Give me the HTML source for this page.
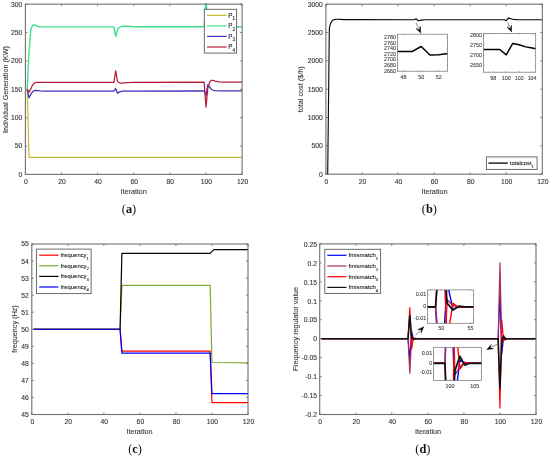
<!DOCTYPE html>
<html><head><meta charset="utf-8"><title>Figure</title>
<style>html,body{margin:0;padding:0;background:#fff}svg{display:block}</style>
</head><body>
<svg width="550" height="459" viewBox="0 0 550 459" font-family='"Liberation Sans", sans-serif'>
<rect width="550" height="459" fill="#fff"/>
<path d="M25.4 174.4v-2M25.4 4.15v2M61.52 174.4v-2M61.52 4.15v2M97.63 174.4v-2M97.63 4.15v2M133.75 174.4v-2M133.75 4.15v2M169.87 174.4v-2M169.87 4.15v2M205.98 174.4v-2M205.98 4.15v2M242.1 174.4v-2M242.1 4.15v2M25.4 174.4h2M242.1 174.4h-2M25.4 146.03h2M242.1 146.03h-2M25.4 117.65h2M242.1 117.65h-2M25.4 89.28h2M242.1 89.28h-2M25.4 60.9h2M242.1 60.9h-2M25.4 32.53h2M242.1 32.53h-2M25.4 4.15h2M242.1 4.15h-2" stroke="#707070" stroke-width="0.88" fill="none"/>
<g font-size="6.8" fill="#383838" stroke="#383838" stroke-width="0.12" text-anchor="middle">
<text x="25.9" y="184.2">0</text>
<text x="62.02" y="184.2">20</text>
<text x="98.13" y="184.2">40</text>
<text x="134.25" y="184.2">60</text>
<text x="170.37" y="184.2">80</text>
<text x="206.48" y="184.2">100</text>
<text x="242.6" y="184.2">120</text>
</g>
<g font-size="6.8" fill="#383838" stroke="#383838" stroke-width="0.12" text-anchor="end">
<text x="22.3" y="176.85">0</text>
<text x="22.3" y="148.47">50</text>
<text x="22.3" y="120.1">100</text>
<text x="22.3" y="91.72">150</text>
<text x="22.3" y="63.35">200</text>
<text x="22.3" y="34.97">250</text>
<text x="22.3" y="6.6">300</text>
</g>
<clipPath id="c1"><rect x="25.4" y="2.95" width="216.7" height="171.45"/></clipPath>
<g clip-path="url(#c1)" fill="none" stroke-linejoin="round">
<polyline points="27.21,89.28 29.01,157.38 242.1,157.38" stroke="#c8be2c" stroke-width="1.25"/>
<polyline points="27.21,89.28 29.01,52.39 30.82,29.69 32.62,25.15 34.43,24.86 36.23,25.72 38.04,26.4 39.85,26.74 43.46,26.85 113.89,26.85 115.69,36.5 117.5,29.69 119.3,27.42 121.11,26.57 122.91,26.28 126.53,26.28 133.75,26.68 204.18,26.68 205.98,-1.53 207.79,25.72 209.59,26.68 242.1,26.68" stroke="#3fe08c" stroke-width="1.4"/>
<polyline points="27.21,89.28 29.01,97.79 30.82,94.38 32.62,91.55 34.43,90.58 36.23,90.41 39.85,90.81 47.07,91.09 113.89,91.09 115.69,88.42 117.5,93.25 119.3,92.11 121.11,91.43 122.91,91.09 204.18,90.86 205.98,95.8 207.79,84.51 209.59,87.01 211.4,89.28 213.21,90.24 215.01,90.64 220.43,90.81 242.1,90.81" stroke="#4030bc" stroke-width="1.25"/>
<polyline points="27.21,89.28 29.01,92.11 30.82,88.93 32.62,84.85 34.43,83.03 36.23,82.47 39.85,82.29 47.07,82.47 113.89,82.47 115.69,70.94 117.5,81.33 119.3,82.86 121.11,83.03 126.53,82.69 133.75,82.47 204.18,82.24 205.98,107.09 207.79,88.42 209.59,82.07 211.4,80.37 213.21,80.37 215.01,81.1 218.62,81.9 224.04,82.12 242.1,82.18" stroke="#b41c3c" stroke-width="1.25"/>
</g>
<rect x="25.4" y="4.15" width="216.7" height="170.25" fill="none" stroke="#707070" stroke-width="1.1"/>
<rect x="204.3" y="9.3" width="32.3" height="43.8" fill="#fff" stroke="#5c5c5c" stroke-width="0.9"/>
<path d="M207.1 15.4H226.5" stroke="#c8be2c" stroke-width="1.2"/>
<text x="228.3" y="17.54" font-size="6.3" fill="#222" stroke="#222" stroke-width="0.1">P<tspan font-size="4.54" dy="2.65">1</tspan></text>
<path d="M207.1 25.9H226.5" stroke="#3fe08c" stroke-width="1.2"/>
<text x="228.3" y="28.04" font-size="6.3" fill="#222" stroke="#222" stroke-width="0.1">P<tspan font-size="4.54" dy="2.65">2</tspan></text>
<path d="M207.1 36.4H226.5" stroke="#4030bc" stroke-width="1.2"/>
<text x="228.3" y="38.54" font-size="6.3" fill="#222" stroke="#222" stroke-width="0.1">P<tspan font-size="4.54" dy="2.65">3</tspan></text>
<path d="M207.1 47H226.5" stroke="#b41c3c" stroke-width="1.2"/>
<text x="228.3" y="49.14" font-size="6.3" fill="#222" stroke="#222" stroke-width="0.1">P<tspan font-size="4.54" dy="2.65">4</tspan></text>
<text x="133.6" y="193.7" text-anchor="middle" font-size="7.25" fill="#383838" stroke="#383838" stroke-width="0.1">Iteration</text>
<text transform="translate(7.8 89.5) rotate(-90)" text-anchor="middle" font-size="7.25" fill="#383838" stroke="#383838" stroke-width="0.1">Individual Generation (KW)</text>
<text x="129" y="212.6" text-anchor="middle" font-size="12.3" fill="#111" font-family='"Liberation Serif", serif'>(<tspan font-weight="bold">a</tspan>)</text>
<path d="M325.9 174.2v-2M325.9 4.2v2M361.97 174.2v-2M361.97 4.2v2M398.03 174.2v-2M398.03 4.2v2M434.1 174.2v-2M434.1 4.2v2M470.17 174.2v-2M470.17 4.2v2M506.23 174.2v-2M506.23 4.2v2M542.3 174.2v-2M542.3 4.2v2M325.9 174.2h2M542.3 174.2h-2M325.9 145.87h2M542.3 145.87h-2M325.9 117.53h2M542.3 117.53h-2M325.9 89.2h2M542.3 89.2h-2M325.9 60.87h2M542.3 60.87h-2M325.9 32.53h2M542.3 32.53h-2M325.9 4.2h2M542.3 4.2h-2" stroke="#707070" stroke-width="0.88" fill="none"/>
<g font-size="6.8" fill="#383838" stroke="#383838" stroke-width="0.12" text-anchor="middle">
<text x="326.4" y="184">0</text>
<text x="362.47" y="184">20</text>
<text x="398.53" y="184">40</text>
<text x="434.6" y="184">60</text>
<text x="470.67" y="184">80</text>
<text x="506.73" y="184">100</text>
<text x="542.8" y="184">120</text>
</g>
<g font-size="6.8" fill="#383838" stroke="#383838" stroke-width="0.12" text-anchor="end">
<text x="322.8" y="176.65">0</text>
<text x="322.8" y="148.31">500</text>
<text x="322.8" y="119.98">1000</text>
<text x="322.8" y="91.65">1500</text>
<text x="322.8" y="63.31">2000</text>
<text x="322.8" y="34.98">2500</text>
<text x="322.8" y="6.65">3000</text>
</g>
<clipPath id="c2"><rect x="325.9" y="4.2" width="216.4" height="170"/></clipPath>
<g clip-path="url(#c2)" fill="none" stroke-linejoin="round">
<polyline points="327.7,174.2 329.33,28.85 329.87,25.85 330.77,23.01 331.85,21.2 333.11,20.01 334.92,19.39 336.72,19.22 338.52,19.27 340.33,19.39 343.93,19.56 351.15,19.67 414.26,19.73 416.07,18.71 417.87,20.58 419.67,20.41 421.48,20.12 425.08,19.78 504.43,19.73 506.23,20.8 508.04,18.08 509.84,18.42 511.64,18.99 513.45,19.39 517.05,19.67 542.3,19.73" stroke="#0a0a0a" stroke-width="1.15"/>
</g>
<rect x="325.9" y="4.2" width="216.4" height="170" fill="none" stroke="#707070" stroke-width="1.1"/>
<rect x="397.4" y="34.2" width="50.2" height="37" fill="#fff"/>
<path d="M403.56 71.2v-1M403.56 34.2v1M421.18 71.2v-1M421.18 34.2v1M438.79 71.2v-1M438.79 34.2v1M397.4 71.2h1M447.6 71.2h-1M397.4 65.59h1M447.6 65.59h-1M397.4 59.99h1M447.6 59.99h-1M397.4 54.38h1M447.6 54.38h-1M397.4 48.78h1M447.6 48.78h-1M397.4 43.17h1M447.6 43.17h-1M397.4 37.56h1M447.6 37.56h-1" stroke="#707070" stroke-width="0.56" fill="none"/>
<g font-size="5.4" fill="#383838" stroke="#383838" stroke-width="0.08" text-anchor="middle">
<text x="403.56" y="78.7">48</text>
<text x="421.18" y="78.7">50</text>
<text x="438.79" y="78.7">52</text>
</g>
<g font-size="5.4" fill="#383838" stroke="#383838" stroke-width="0.08" text-anchor="end">
<text x="396.1" y="72.54">2660</text>
<text x="396.1" y="66.94">2680</text>
<text x="396.1" y="61.33">2700</text>
<text x="396.1" y="55.73">2720</text>
<text x="396.1" y="50.12">2740</text>
<text x="396.1" y="44.51">2760</text>
<text x="396.1" y="38.91">2780</text>
</g>
<clipPath id="c3"><rect x="397.4" y="34.2" width="50.2" height="37"/></clipPath>
<g clip-path="url(#c3)" fill="none" stroke-linejoin="round">
<polyline points="394.76,51.44 412.37,51.44 421.18,46.53 429.99,55.08 438.79,54.66 447.6,53.54" stroke="#000" stroke-width="1.5"/>
</g>
<rect x="397.4" y="34.2" width="50.2" height="37" fill="none" stroke="#707070" stroke-width="0.7"/>
<rect x="483.4" y="33.5" width="52.3" height="38.7" fill="#fff"/>
<path d="M493.3 72.2v-1M493.3 33.5v1M506.25 72.2v-1M506.25 33.5v1M519.19 72.2v-1M519.19 33.5v1M532.14 72.2v-1M532.14 33.5v1M483.4 65.42h1M535.7 65.42h-1M483.4 55.44h1M535.7 55.44h-1M483.4 45.47h1M535.7 45.47h-1M483.4 35.49h1M535.7 35.49h-1" stroke="#707070" stroke-width="0.56" fill="none"/>
<g font-size="5.4" fill="#383838" stroke="#383838" stroke-width="0.08" text-anchor="middle">
<text x="493.3" y="79.7">98</text>
<text x="506.25" y="79.7">100</text>
<text x="519.19" y="79.7">102</text>
<text x="532.14" y="79.7">104</text>
</g>
<g font-size="5.4" fill="#383838" stroke="#383838" stroke-width="0.08" text-anchor="end">
<text x="482.1" y="66.76">2650</text>
<text x="482.1" y="56.79">2700</text>
<text x="482.1" y="46.81">2750</text>
<text x="482.1" y="36.84">2800</text>
</g>
<clipPath id="c4"><rect x="483.4" y="33.5" width="52.3" height="38.7"/></clipPath>
<g clip-path="url(#c4)" fill="none" stroke-linejoin="round">
<polyline points="480.36,49.46 499.78,49.46 506.25,54.84 512.72,43.47 519.19,44.67 525.67,46.87 532.14,48.06 536.02,48.76" stroke="#000" stroke-width="1.5"/>
</g>
<rect x="483.4" y="33.5" width="52.3" height="38.7" fill="none" stroke="#707070" stroke-width="0.7"/>
<path d="M416.1 22.9L418.58 28.29" stroke="#111" stroke-width="0.5"/>
<path d="M420.8 33.1L415.98 28.38L419.27 29.78L420.34 26.37Z" fill="#000" stroke="#000" stroke-width="0.45" stroke-linejoin="miter"/>
<path d="M507.8 22.4L509.65 27.07" stroke="#111" stroke-width="0.5"/>
<path d="M511.6 32L507.05 27.03L510.26 28.6L511.51 25.26Z" fill="#000" stroke="#000" stroke-width="0.45" stroke-linejoin="miter"/>
<rect x="486.4" y="156.9" width="50.7" height="12.5" fill="#fff" stroke="#5c5c5c" stroke-width="0.9"/>
<path d="M488.4 163.1H507.8" stroke="#000" stroke-width="1.3"/>
<text x="509.8" y="165.09" font-size="5.85" fill="#222" stroke="#222" stroke-width="0.1">totalcost<tspan font-size="4.21" dy="2.46">1</tspan></text>
<text x="434.5" y="193.7" text-anchor="middle" font-size="7.25" fill="#383838" stroke="#383838" stroke-width="0.1">Iteration</text>
<text transform="translate(303.3 89.3) rotate(-90)" text-anchor="middle" font-size="7.25" fill="#383838" stroke="#383838" stroke-width="0.1">total cost ($/h)</text>
<text x="429.3" y="212.6" text-anchor="middle" font-size="12.3" fill="#111" font-family='"Liberation Serif", serif'>(<tspan font-weight="bold">b</tspan>)</text>
<path d="M31.8 414.5v-2M31.8 244v2M67.83 414.5v-2M67.83 244v2M103.87 414.5v-2M103.87 244v2M139.9 414.5v-2M139.9 244v2M175.93 414.5v-2M175.93 244v2M211.97 414.5v-2M211.97 244v2M248 414.5v-2M248 244v2M31.8 414.5h2M248 414.5h-2M31.8 397.45h2M248 397.45h-2M31.8 380.4h2M248 380.4h-2M31.8 363.35h2M248 363.35h-2M31.8 346.3h2M248 346.3h-2M31.8 329.25h2M248 329.25h-2M31.8 312.2h2M248 312.2h-2M31.8 295.15h2M248 295.15h-2M31.8 278.1h2M248 278.1h-2M31.8 261.05h2M248 261.05h-2M31.8 244h2M248 244h-2" stroke="#707070" stroke-width="0.88" fill="none"/>
<g font-size="6.8" fill="#383838" stroke="#383838" stroke-width="0.12" text-anchor="middle">
<text x="32.3" y="424.3">0</text>
<text x="68.33" y="424.3">20</text>
<text x="104.37" y="424.3">40</text>
<text x="140.4" y="424.3">60</text>
<text x="176.43" y="424.3">80</text>
<text x="212.47" y="424.3">100</text>
<text x="248.5" y="424.3">120</text>
</g>
<g font-size="6.8" fill="#383838" stroke="#383838" stroke-width="0.12" text-anchor="end">
<text x="28.7" y="416.95">45</text>
<text x="28.7" y="399.9">46</text>
<text x="28.7" y="382.85">47</text>
<text x="28.7" y="365.8">48</text>
<text x="28.7" y="348.75">49</text>
<text x="28.7" y="331.7">50</text>
<text x="28.7" y="314.65">51</text>
<text x="28.7" y="297.6">52</text>
<text x="28.7" y="280.55">53</text>
<text x="28.7" y="263.5">54</text>
<text x="28.7" y="246.45">55</text>
</g>
<clipPath id="c5"><rect x="31.8" y="244" width="216.2" height="170.5"/></clipPath>
<g clip-path="url(#c5)" fill="none" stroke-linejoin="round">
<polyline points="33.6,329.25 120.08,329.25 121.88,351.07 210.16,351.07 211.97,402.56 248,402.56" stroke="#ff0000" stroke-width="1.2"/>
<polyline points="33.6,329.25 120.08,329.25 121.88,285.43 210.16,285.43 211.97,362.5 248,362.84" stroke="#77ac30" stroke-width="1.2"/>
<polyline points="33.6,329.25 120.08,329.25 121.88,253.38 210.16,253.38 213.77,249.63 248,249.63" stroke="#000" stroke-width="1.2"/>
<polyline points="33.6,329.25 120.08,329.25 121.88,353.12 210.16,353.12 211.97,393.7 248,393.7" stroke="#0000ff" stroke-width="1.2"/>
</g>
<rect x="31.8" y="244" width="216.2" height="170.5" fill="none" stroke="#707070" stroke-width="1.1"/>
<rect x="36.4" y="249.1" width="54.7" height="44.5" fill="#fff" stroke="#5c5c5c" stroke-width="0.9"/>
<path d="M39.2 255.2H58.5" stroke="#ff0000" stroke-width="1.2"/>
<text x="60.7" y="257.21" font-size="5.9" fill="#222" stroke="#222" stroke-width="0.1">frequency<tspan font-size="4.25" dy="2.48">1</tspan></text>
<path d="M39.2 265.8H58.5" stroke="#77ac30" stroke-width="1.2"/>
<text x="60.7" y="267.81" font-size="5.9" fill="#222" stroke="#222" stroke-width="0.1">frequency<tspan font-size="4.25" dy="2.48">2</tspan></text>
<path d="M39.2 276.4H58.5" stroke="#000" stroke-width="1.2"/>
<text x="60.7" y="278.41" font-size="5.9" fill="#222" stroke="#222" stroke-width="0.1">frequency<tspan font-size="4.25" dy="2.48">3</tspan></text>
<path d="M39.2 287H58.5" stroke="#0000ff" stroke-width="1.2"/>
<text x="60.7" y="289.01" font-size="5.9" fill="#222" stroke="#222" stroke-width="0.1">frequency<tspan font-size="4.25" dy="2.48">4</tspan></text>
<text x="139.5" y="433.5" text-anchor="middle" font-size="7.25" fill="#383838" stroke="#383838" stroke-width="0.1">Iteration</text>
<text transform="translate(17.3 329) rotate(-90)" text-anchor="middle" font-size="7.25" fill="#383838" stroke="#383838" stroke-width="0.1">frequency (Hz)</text>
<text x="135.1" y="452.5" text-anchor="middle" font-size="12.3" fill="#111" font-family='"Liberation Serif", serif'>(<tspan font-weight="bold">c</tspan>)</text>
<path d="M319.7 414.5v-2M319.7 243.9v2M355.75 414.5v-2M355.75 243.9v2M391.8 414.5v-2M391.8 243.9v2M427.85 414.5v-2M427.85 243.9v2M463.9 414.5v-2M463.9 243.9v2M499.95 414.5v-2M499.95 243.9v2M536 414.5v-2M536 243.9v2M319.7 414.5h2M536 414.5h-2M319.7 395.54h2M536 395.54h-2M319.7 376.59h2M536 376.59h-2M319.7 357.63h2M536 357.63h-2M319.7 338.68h2M536 338.68h-2M319.7 319.72h2M536 319.72h-2M319.7 300.77h2M536 300.77h-2M319.7 281.81h2M536 281.81h-2M319.7 262.86h2M536 262.86h-2M319.7 243.9h2M536 243.9h-2" stroke="#707070" stroke-width="0.88" fill="none"/>
<g font-size="6.8" fill="#383838" stroke="#383838" stroke-width="0.12" text-anchor="middle">
<text x="320.2" y="424.3">0</text>
<text x="356.25" y="424.3">20</text>
<text x="392.3" y="424.3">40</text>
<text x="428.35" y="424.3">60</text>
<text x="464.4" y="424.3">80</text>
<text x="500.45" y="424.3">100</text>
<text x="536.5" y="424.3">120</text>
</g>
<g font-size="6.8" fill="#383838" stroke="#383838" stroke-width="0.12" text-anchor="end">
<text x="317" y="417.25">-0.2</text>
<text x="317" y="398.29">-0.15</text>
<text x="317" y="379.34">-0.1</text>
<text x="317" y="360.38">-0.05</text>
<text x="317" y="341.43">0</text>
<text x="317" y="322.47">0.05</text>
<text x="317" y="303.51">0.1</text>
<text x="317" y="284.56">0.15</text>
<text x="317" y="265.6">0.2</text>
<text x="317" y="246.65">0.25</text>
</g>
<clipPath id="c6"><rect x="319.7" y="243.9" width="216.3" height="170.6"/></clipPath>
<g clip-path="url(#c6)" fill="none" stroke-linejoin="round">
<polyline points="321.5,338.68 408.02,338.68 409.82,359.53 411.63,331.1 413.43,339.44 415.23,338.56 417.03,338.68 498.15,338.68 499.95,293.18 501.75,353.84 503.56,337.35 505.36,338.68 536,338.68" stroke="#0000ff" stroke-width="1.2"/>
<polyline points="321.5,338.68 408.02,338.68 409.82,373.18 411.63,336.4 413.43,338.3 415.23,338.68 498.15,338.68 499.95,262.86 501.75,343.23 503.56,340.19 505.36,338.3 507.16,338.68 536,338.68" stroke="#a82c58" stroke-width="1.2"/>
<polyline points="321.5,338.68 408.02,338.68 409.82,307.59 411.63,348.91 413.43,337.54 415.23,338.87 417.03,338.68 498.15,338.68 499.95,408.06 501.75,319.72 503.56,340.95 505.36,338.3 507.16,338.68 536,338.68" stroke="#ff0000" stroke-width="1.2"/>
<polyline points="321.5,338.68 408.02,338.68 409.82,315.55 411.63,337.54 413.43,339.7 415.23,338.45 417.03,338.68 498.15,338.68 499.95,387.96 501.75,341.71 503.56,335.87 505.36,339.44 507.16,338.68 536,338.68" stroke="#111" stroke-width="1.6"/>
</g>
<rect x="319.7" y="243.9" width="216.3" height="170.6" fill="none" stroke="#707070" stroke-width="1.1"/>
<rect x="427.5" y="289.9" width="46.2" height="33.4" fill="#fff"/>
<path d="M441.35 323.3v-1M441.35 289.9v1M470.44 323.3v-1M470.44 289.9v1M427.5 318.9h1M473.7 318.9h-1M427.5 306.9h1M473.7 306.9h-1M427.5 294.9h1M473.7 294.9h-1" stroke="#707070" stroke-width="0.56" fill="none"/>
<g font-size="5.4" fill="#383838" stroke="#383838" stroke-width="0.08" text-anchor="middle">
<text x="441.35" y="329.5">50</text>
<text x="470.44" y="329.5">55</text>
</g>
<g font-size="5.4" fill="#383838" stroke="#383838" stroke-width="0.08" text-anchor="end">
<text x="426.2" y="320.24">-0.01</text>
<text x="426.2" y="308.24">0</text>
<text x="426.2" y="296.25">0.01</text>
</g>
<clipPath id="c7"><rect x="427.5" y="289.9" width="46.2" height="33.4"/></clipPath>
<g clip-path="url(#c7)" fill="none" stroke-linejoin="round">
<polyline points="156.24,306.9 435.53,306.9 441.35,372.88 447.17,282.91 452.99,309.3 458.8,306.54 464.62,306.9 726.46,306.9 732.28,162.93 738.1,354.89 743.92,302.7 749.74,306.9 848.65,306.9" stroke="#0000ff" stroke-width="1.4"/>
<polyline points="156.24,306.9 435.53,306.9 441.35,416.07 447.17,299.7 452.99,305.7 458.8,306.9 726.46,306.9 732.28,66.96 738.1,321.3 743.92,311.7 749.74,305.7 755.55,306.9 848.65,306.9" stroke="#a82c58" stroke-width="1.4"/>
<polyline points="156.24,306.9 435.53,306.9 441.35,208.52 447.17,339.29 452.99,303.3 458.8,307.5 464.62,306.9 726.46,306.9 732.28,526.45 738.1,246.91 743.92,314.1 749.74,305.7 755.55,306.9 848.65,306.9" stroke="#ff0000" stroke-width="1.4"/>
<polyline points="156.24,306.9 435.53,306.9 441.35,233.72 447.17,303.3 452.99,310.14 458.8,306.18 464.62,306.9 726.46,306.9 732.28,462.86 738.1,316.5 743.92,298.02 749.74,309.3 755.55,306.9 848.65,306.9" stroke="#111" stroke-width="1.7"/>
</g>
<rect x="427.5" y="289.9" width="46.2" height="33.4" fill="none" stroke="#707070" stroke-width="0.7"/>
<rect x="433.6" y="347.3" width="48" height="33.1" fill="#fff"/>
<path d="M449.93 380.4v-1M449.93 347.3v1M474.67 380.4v-1M474.67 347.3v1M433.6 372.79h1M481.6 372.79h-1M433.6 363.28h1M481.6 363.28h-1M433.6 353.77h1M481.6 353.77h-1" stroke="#707070" stroke-width="0.56" fill="none"/>
<g font-size="5.4" fill="#383838" stroke="#383838" stroke-width="0.08" text-anchor="middle">
<text x="449.93" y="387.9">100</text>
<text x="474.67" y="387.9">105</text>
</g>
<g font-size="5.4" fill="#383838" stroke="#383838" stroke-width="0.08" text-anchor="end">
<text x="432.3" y="374.13">-0.01</text>
<text x="432.3" y="364.62">0</text>
<text x="432.3" y="355.11">0.01</text>
</g>
<clipPath id="c8"><rect x="433.6" y="347.3" width="48" height="33.1"/></clipPath>
<g clip-path="url(#c8)" fill="none" stroke-linejoin="round">
<polyline points="-39.97,363.28 197.56,363.28 202.51,415.59 207.46,344.26 212.4,365.18 217.35,362.99 222.3,363.28 444.98,363.28 449.93,249.14 454.88,401.33 459.83,359.95 464.78,363.28 548.9,363.28" stroke="#0000ff" stroke-width="1.4"/>
<polyline points="-39.97,363.28 197.56,363.28 202.51,449.83 207.46,357.57 212.4,362.33 217.35,363.28 444.98,363.28 449.93,173.05 454.88,374.69 459.83,367.08 464.78,362.33 469.72,363.28 548.9,363.28" stroke="#a82c58" stroke-width="1.4"/>
<polyline points="-39.97,363.28 197.56,363.28 202.51,285.29 207.46,388.96 212.4,360.43 217.35,363.75 222.3,363.28 444.98,363.28 449.93,537.34 454.88,315.72 459.83,368.99 464.78,362.33 469.72,363.28 548.9,363.28" stroke="#ff0000" stroke-width="1.4"/>
<polyline points="-39.97,363.28 197.56,363.28 202.51,305.26 207.46,360.43 212.4,365.85 217.35,362.71 222.3,363.28 444.98,363.28 449.93,486.93 454.88,370.89 459.83,356.24 464.78,365.18 469.72,363.28 548.9,363.28" stroke="#111" stroke-width="1.7"/>
</g>
<rect x="433.6" y="347.3" width="48" height="33.1" fill="none" stroke="#707070" stroke-width="0.7"/>
<path d="M415.6 335.2L420.1 330.59" stroke="#111" stroke-width="0.5"/>
<path d="M423.8 326.8L421.12 332.98L421.25 329.41L417.68 329.63Z" fill="#000" stroke="#000" stroke-width="0.45" stroke-linejoin="miter"/>
<path d="M497.1 344.3L491.53 347.11" stroke="#111" stroke-width="0.5"/>
<path d="M486.8 349.5L491.34 344.52L490.06 347.85L493.51 348.8Z" fill="#000" stroke="#000" stroke-width="0.45" stroke-linejoin="miter"/>
<rect x="324.8" y="249.3" width="55.8" height="44.1" fill="#fff" stroke="#5c5c5c" stroke-width="0.9"/>
<path d="M327.3 255.3H346.5" stroke="#0000ff" stroke-width="1.2"/>
<text x="348.5" y="257.34" font-size="6" fill="#222" stroke="#222" stroke-width="0.1">fmismatch<tspan font-size="4.32" dy="2.52">1</tspan></text>
<path d="M327.3 266H346.5" stroke="#a82c58" stroke-width="1.2"/>
<text x="348.5" y="268.04" font-size="6" fill="#222" stroke="#222" stroke-width="0.1">fmismatch<tspan font-size="4.32" dy="2.52">2</tspan></text>
<path d="M327.3 276.7H346.5" stroke="#ff0000" stroke-width="1.2"/>
<text x="348.5" y="278.74" font-size="6" fill="#222" stroke="#222" stroke-width="0.1">fmismatch<tspan font-size="4.32" dy="2.52">3</tspan></text>
<path d="M327.3 287.4H346.5" stroke="#111" stroke-width="1.2"/>
<text x="348.5" y="289.44" font-size="6" fill="#222" stroke="#222" stroke-width="0.1">fmismatch<tspan font-size="4.32" dy="2.52">4</tspan></text>
<text x="428" y="433.5" text-anchor="middle" font-size="7.25" fill="#383838" stroke="#383838" stroke-width="0.1">Iteration</text>
<text transform="translate(297.5 329) rotate(-90)" text-anchor="middle" font-size="7.25" fill="#383838" stroke="#383838" stroke-width="0.1">Frequency regulator value</text>
<text x="422.9" y="452.5" text-anchor="middle" font-size="12.3" fill="#111" font-family='"Liberation Serif", serif'>(<tspan font-weight="bold">d</tspan>)</text>
</svg>
</body></html>
